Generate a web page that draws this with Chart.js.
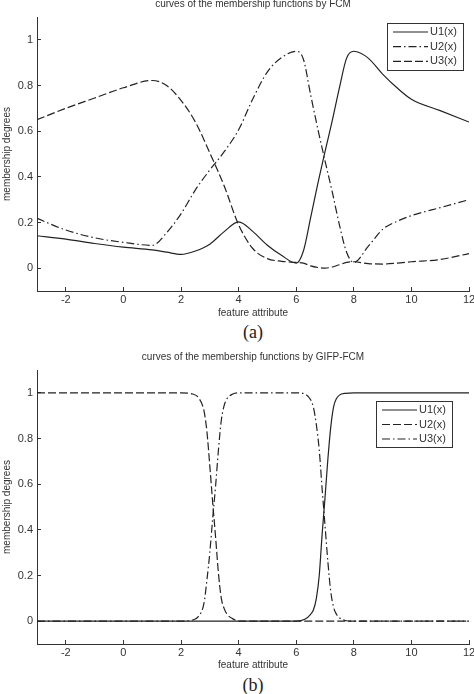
<!DOCTYPE html>
<html><head><meta charset="utf-8">
<script src="https://cdn.jsdelivr.net/npm/chart.js@4/dist/chart.umd.min.js"></script>
<style>
html,body{margin:0;padding:0;background:#fff;}
body{width:474px;height:694px;position:relative;overflow:hidden;}
.wrap{position:absolute;left:0;width:474px;}
.cap{position:absolute;left:203px;width:100px;text-align:center;font-family:"Liberation Serif","Times New Roman",serif;font-size:18px;line-height:20px;color:#222;}
</style></head><body>
<div class="wrap" style="top:0;height:322px"><canvas id="c1" width="474" height="322" style="width:474px;height:322px"></canvas></div>
<div class="cap" style="top:322px">(a)</div>
<div class="wrap" style="top:340px;height:334px"><canvas id="c2" width="474" height="334" style="width:474px;height:334px"></canvas></div>
<div class="cap" style="top:675px">(b)</div>
<script>
// ---- data: FCM (a) ----
const xFcm  = [-3,-2,-1,0,1,1.5,2,2.5,3,3.5,4,4.5,5,5.5,6,6.25,6.5,6.75,7,7.25,7.5,7.75,8,8.5,9,9.5,10,11,12];
const u1Fcm = [0.142,0.127,0.108,0.092,0.080,0.070,0.060,0.075,0.105,0.160,0.203,0.160,0.100,0.055,0.022,0.075,0.220,0.370,0.510,0.645,0.790,0.920,0.950,0.920,0.850,0.790,0.740,0.690,0.640];
const u2Fcm = [0.218,0.167,0.133,0.113,0.100,0.155,0.238,0.343,0.430,0.510,0.606,0.743,0.860,0.923,0.950,0.915,0.760,0.610,0.470,0.335,0.190,0.070,0.025,0.095,0.170,0.205,0.230,0.265,0.300];
const u3Fcm = [0.650,0.700,0.745,0.790,0.822,0.800,0.735,0.640,0.505,0.360,0.190,0.085,0.042,0.030,0.025,0.022,0.010,0.003,0.000,0.005,0.015,0.025,0.028,0.020,0.018,0.022,0.028,0.038,0.064];

// ---- data: GIFP-FCM (b) ----
const xGifp  = [-3,2,2.4,2.6,2.8,2.9,3.0,3.1,3.2,3.3,3.4,3.5,3.6,3.8,4.0,6.0,6.3,6.5,6.6,6.7,6.8,6.9,7.0,7.1,7.2,7.3,7.4,7.5,7.7,8.0,12];
const u1Gifp = [0,0,0,0,0,0,0,0,0,0,0,0,0,0,0,0,0.008,0.03,0.05,0.10,0.20,0.38,0.54,0.71,0.85,0.94,0.975,0.99,0.998,1,1];
const u2Gifp = [1,1,0.995,0.98,0.92,0.83,0.68,0.52,0.37,0.21,0.10,0.055,0.03,0.01,0,0,0,0,0,0,0,0,0,0,0,0,0,0,0,0,0];
const u3Gifp = [0,0,0.005,0.02,0.08,0.18,0.30,0.45,0.59,0.75,0.88,0.945,0.975,0.995,1,1,0.995,0.97,0.935,0.86,0.75,0.58,0.42,0.26,0.13,0.06,0.03,0.015,0.003,0,0];

const seriesLabels = ['U1(x)','U2(x)','U3(x)'];
const xTicks = [-2,0,2,4,6,8,10,12];
const yTicks = [0,0.2,0.4,0.6,0.8,1];
const titleA = 'curves of the membership functions by FCM';
const titleB = 'curves of the membership functions by GIFP-FCM';
const xTitle = 'feature attribute';
const yTitle = 'membership degrees';

const FONT = '"Liberation Sans", Arial, sans-serif';
const INK = '#222';
const TXT = '#333';
const SOLID = [], DASH = [8,3], DASHDOT = [8,3,1.5,3];

const boxLegend = {
  id: 'boxLegend',
  afterDatasetsDraw(chart, args, o) {
    const {ctx, chartArea: a} = chart;
    const x0 = Math.round(a.right - o.right - o.width), y0 = Math.round(a.top + o.top);
    ctx.save();
    ctx.fillStyle = '#fff';
    ctx.fillRect(x0, y0, o.width, o.height);
    ctx.setLineDash([]);
    ctx.strokeStyle = '#333';
    ctx.lineWidth = 1;
    ctx.strokeRect(x0 + 0.5, y0 + 0.5, o.width, o.height);
    ctx.font = '11px ' + FONT;
    ctx.textBaseline = 'middle';
    chart.data.datasets.forEach((ds, i) => {
      const y = y0 + o.first + i * o.step;
      ctx.strokeStyle = ds.borderColor;
      ctx.lineWidth = ds.borderWidth;
      ctx.setLineDash(ds.borderDash || []);
      ctx.beginPath(); ctx.moveTo(x0 + 6, y); ctx.lineTo(x0 + 41, y); ctx.stroke();
      ctx.setLineDash([]);
      ctx.fillStyle = TXT;
      ctx.fillText(ds.label, x0 + 43, y);
    });
    ctx.restore();
  }
};

function ds(label, xs, ys, dash) {
  return {
    label, data: xs.map((x, i) => ({x, y: ys[i]})),
    borderColor: INK, borderWidth: 1.2, borderDash: dash,
    pointRadius: 0, fill: false, cubicInterpolationMode: 'monotone'
  };
}

function scales(xScaleH, xPad) {
  return {
    x: {
      type: 'linear', position: 'bottom', min: -3, max: 12,
      afterBuildTicks: s => { s.ticks = xTicks.map(v => ({value: v})); },
      ticks: {font: {family: FONT, size: 11}, color: TXT, padding: xPad, maxRotation: 0, autoSkip: false, callback: v => String(v)},
      grid: {drawOnChartArea: false, tickLength: -4, color: '#333', tickColor: '#333'},
      border: {display: true, color: '#333', width: 1},
      title: {display: true, text: xTitle, font: {family: FONT, size: 10}, color: TXT, padding: {top: 0, bottom: 3}},
      afterFit: s => { s.height = xScaleH; s.paddingLeft = 0; s.paddingRight = 0; }
    },
    y: {
      type: 'linear', position: 'left', min: -0.1, max: 1.1,
      afterBuildTicks: s => { s.ticks = yTicks.map(v => ({value: v})); },
      ticks: {font: {family: FONT, size: 11}, color: TXT, padding: 8, autoSkip: false, callback: v => String(v)},
      grid: {drawOnChartArea: false, tickLength: -4, color: '#333', tickColor: '#333'},
      border: {display: true, color: '#333', width: 1},
      title: {display: true, text: yTitle, font: {family: FONT, size: 10}, color: TXT, padding: {top: 1, bottom: 0}},
      afterFit: s => { s.width = 37; s.paddingTop = 0; s.paddingBottom = 0; }
    }
  };
}

function makeChart(id, title, titlePadTop, xs, u1, u2, u3, d2, d3, xScaleH, xPad, legendOpts) {
  return new Chart(document.getElementById(id), {
    type: 'line',
    data: {datasets: [ds(seriesLabels[0], xs, u1, SOLID), ds(seriesLabels[1], xs, u2, d2), ds(seriesLabels[2], xs, u3, d3)]},
    options: {
      responsive: false, animation: false, events: [],
      layout: {padding: {left: 0, right: 5, top: 0, bottom: 0}},
      plugins: {
        legend: {display: false}, tooltip: {enabled: false},
        title: {display: true, text: title, fullSize: false, color: TXT,
                font: {family: FONT, size: 10, lineHeight: 0.8, weight: 'normal'},
                padding: {top: titlePadTop, bottom: 9}},
        boxLegend: legendOpts
      },
      scales: scales(xScaleH, xPad)
    },
    plugins: [boxLegend]
  });
}

makeChart('c1', titleA, 0, xFcm, u1Fcm, u2Fcm, u3Fcm, DASHDOT, DASH, 31, 6,
  {right: 6, top: 6, width: 76, height: 47, first: 9, step: 14.7});
makeChart('c2', titleB, 13, xGifp, u1Gifp, u2Gifp, u3Gifp, DASH, DASHDOT, 30, 6,
  {right: 17, top: 31, width: 76, height: 46, first: 9, step: 14.5});
</script>
</body></html>
